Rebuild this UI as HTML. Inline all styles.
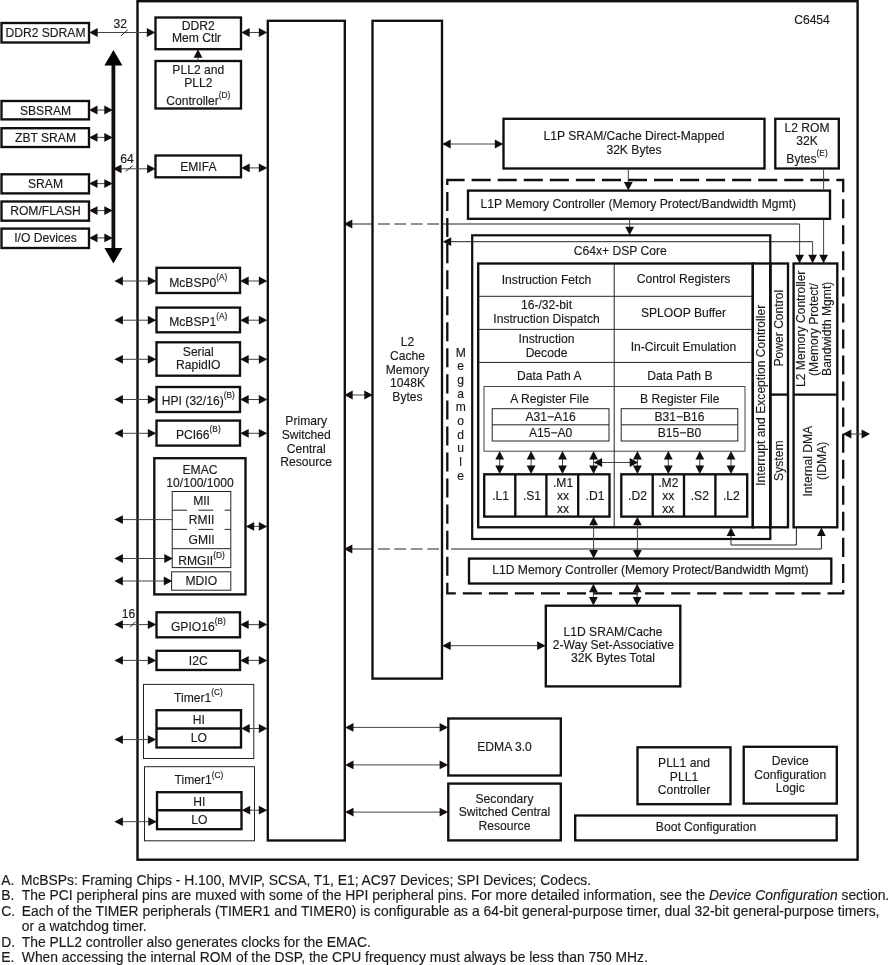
<!DOCTYPE html>
<html><head><meta charset="utf-8"><title>C6454 Functional Block Diagram</title>
<style>
html,body{margin:0;padding:0;background:#fff;}
body{width:889px;height:965px;overflow:hidden;position:relative;font-family:"Liberation Sans",Arial,sans-serif;}
svg{position:absolute;left:0;top:0;will-change:transform;}
svg text{font-family:"Liberation Sans",Arial,sans-serif;fill:#1a1a1a;stroke:#1a1a1a;stroke-width:0.15px;}
</style></head><body>
<svg width="889" height="965" viewBox="0 0 889 965">
<rect x="137.50" y="1.20" width="720.10" height="858.50" fill="none" stroke="#120e0d" stroke-width="2.4" />
<rect x="1.50" y="23.00" width="87.50" height="19.50" fill="none" stroke="#120e0d" stroke-width="2.35" />
<text x="45.50" y="37.00" font-size="12.12" text-anchor="middle" >DDR2 SDRAM</text>
<rect x="1.50" y="101.00" width="87.50" height="18.40" fill="none" stroke="#120e0d" stroke-width="2.35" />
<text x="45.50" y="114.60" font-size="12.12" text-anchor="middle" >SBSRAM</text>
<rect x="1.50" y="128.20" width="87.50" height="18.80" fill="none" stroke="#120e0d" stroke-width="2.35" />
<text x="45.50" y="141.70" font-size="12.12" text-anchor="middle" >ZBT SRAM</text>
<rect x="1.50" y="174.30" width="87.50" height="19.10" fill="none" stroke="#120e0d" stroke-width="2.35" />
<text x="45.50" y="188.10" font-size="12.12" text-anchor="middle" >SRAM</text>
<rect x="1.50" y="201.50" width="87.50" height="19.20" fill="none" stroke="#120e0d" stroke-width="2.35" />
<text x="45.50" y="215.30" font-size="12.12" text-anchor="middle" >ROM/FLASH</text>
<rect x="1.50" y="228.60" width="87.50" height="19.40" fill="none" stroke="#120e0d" stroke-width="2.35" />
<text x="45.50" y="241.70" font-size="12.12" text-anchor="middle" >I/O Devices</text>
<line x1="96.50" y1="110.00" x2="105.30" y2="110.00" stroke="#444" stroke-width="1" />
<polygon points="89.00,110.00 97.50,105.60 97.50,114.40" fill="#120e0d"/>
<polygon points="112.80,110.00 104.30,105.60 104.30,114.40" fill="#120e0d"/>
<line x1="96.50" y1="137.40" x2="105.30" y2="137.40" stroke="#444" stroke-width="1" />
<polygon points="89.00,137.40 97.50,133.00 97.50,141.80" fill="#120e0d"/>
<polygon points="112.80,137.40 104.30,133.00 104.30,141.80" fill="#120e0d"/>
<line x1="96.50" y1="183.60" x2="105.30" y2="183.60" stroke="#444" stroke-width="1" />
<polygon points="89.00,183.60 97.50,179.20 97.50,188.00" fill="#120e0d"/>
<polygon points="112.80,183.60 104.30,179.20 104.30,188.00" fill="#120e0d"/>
<line x1="96.50" y1="210.60" x2="105.30" y2="210.60" stroke="#444" stroke-width="1" />
<polygon points="89.00,210.60 97.50,206.20 97.50,215.00" fill="#120e0d"/>
<polygon points="112.80,210.60 104.30,206.20 104.30,215.00" fill="#120e0d"/>
<line x1="96.50" y1="237.90" x2="105.30" y2="237.90" stroke="#444" stroke-width="1" />
<polygon points="89.00,237.90 97.50,233.50 97.50,242.30" fill="#120e0d"/>
<polygon points="112.80,237.90 104.30,233.50 104.30,242.30" fill="#120e0d"/>
<line x1="113.40" y1="62.00" x2="113.40" y2="251.00" stroke="#120e0d" stroke-width="3.8" />
<polygon points="113.4,50 104.4,65.5 122.4,65.5" fill="#000"/>
<polygon points="113.4,263.5 104.4,248 122.4,248" fill="#000"/>
<line x1="96.70" y1="32.50" x2="147.80" y2="32.50" stroke="#444" stroke-width="1" />
<polygon points="89.20,32.50 97.70,28.10 97.70,36.90" fill="#120e0d"/>
<polygon points="155.30,32.50 146.80,28.10 146.80,36.90" fill="#120e0d"/>
<text x="120.20" y="28.00" font-size="12.12" text-anchor="middle" >32</text>
<line x1="121.00" y1="35.90" x2="127.70" y2="29.80" stroke="#222" stroke-width="1" />
<rect x="155.50" y="17.50" width="85.50" height="31.70" fill="none" stroke="#120e0d" stroke-width="2.35" />
<text x="198.30" y="29.80" font-size="12.12" text-anchor="middle" >DDR2</text>
<text x="196.60" y="41.60" font-size="12.12" text-anchor="middle" >Mem Ctlr</text>
<line x1="248.70" y1="32.50" x2="259.80" y2="32.50" stroke="#444" stroke-width="1" />
<polygon points="241.20,32.50 249.70,28.10 249.70,36.90" fill="#120e0d"/>
<polygon points="267.30,32.50 258.80,28.10 258.80,36.90" fill="#120e0d"/>
<rect x="155.50" y="61.00" width="85.50" height="47.50" fill="none" stroke="#120e0d" stroke-width="2.35" />
<text x="198.30" y="73.70" font-size="12.12" text-anchor="middle" >PLL2 and</text>
<text x="198.30" y="86.50" font-size="12.12" text-anchor="middle" >PLL2</text>
<text x="198.30" y="104.50" font-size="12.12" text-anchor="middle" >Controller<tspan font-size="8.3" dy="-6.6">(D)</tspan></text>
<line x1="198.00" y1="56.70" x2="198.00" y2="61.00" stroke="#444" stroke-width="1" />
<polygon points="198.00,49.20 193.60,57.70 202.40,57.70" fill="#120e0d"/>
<line x1="120.50" y1="168.80" x2="148.10" y2="168.80" stroke="#444" stroke-width="1" />
<polygon points="113.00,168.80 121.50,164.40 121.50,173.20" fill="#120e0d"/>
<polygon points="155.60,168.80 147.10,164.40 147.10,173.20" fill="#120e0d"/>
<text x="127.00" y="162.70" font-size="12.12" text-anchor="middle" >64</text>
<line x1="125.70" y1="171.40" x2="132.70" y2="165.70" stroke="#222" stroke-width="1" />
<rect x="155.50" y="155.50" width="85.50" height="21.80" fill="none" stroke="#120e0d" stroke-width="2.35" />
<text x="198.30" y="171.00" font-size="12.12" text-anchor="middle" >EMIFA</text>
<line x1="248.70" y1="167.90" x2="259.80" y2="167.90" stroke="#444" stroke-width="1" />
<polygon points="241.20,167.90 249.70,163.50 249.70,172.30" fill="#120e0d"/>
<polygon points="267.30,167.90 258.80,163.50 258.80,172.30" fill="#120e0d"/>
<rect x="156.50" y="267.80" width="83.50" height="25.20" fill="none" stroke="#120e0d" stroke-width="2.35" />
<line x1="121.90" y1="281.00" x2="148.80" y2="281.00" stroke="#444" stroke-width="1" />
<polygon points="114.40,281.00 122.90,276.60 122.90,285.40" fill="#120e0d"/>
<polygon points="156.30,281.00 147.80,276.60 147.80,285.40" fill="#120e0d"/>
<line x1="247.70" y1="281.00" x2="259.80" y2="281.00" stroke="#444" stroke-width="1" />
<polygon points="240.20,281.00 248.70,276.60 248.70,285.40" fill="#120e0d"/>
<polygon points="267.30,281.00 258.80,276.60 258.80,285.40" fill="#120e0d"/>
<text x="198.30" y="286.50" font-size="12.12" text-anchor="middle" >McBSP0<tspan font-size="8.3" dy="-6.6">(A)</tspan></text>
<rect x="156.50" y="307.60" width="83.50" height="24.70" fill="none" stroke="#120e0d" stroke-width="2.35" />
<line x1="121.90" y1="320.20" x2="148.80" y2="320.20" stroke="#444" stroke-width="1" />
<polygon points="114.40,320.20 122.90,315.80 122.90,324.60" fill="#120e0d"/>
<polygon points="156.30,320.20 147.80,315.80 147.80,324.60" fill="#120e0d"/>
<line x1="247.70" y1="320.20" x2="259.80" y2="320.20" stroke="#444" stroke-width="1" />
<polygon points="240.20,320.20 248.70,315.80 248.70,324.60" fill="#120e0d"/>
<polygon points="267.30,320.20 258.80,315.80 258.80,324.60" fill="#120e0d"/>
<text x="198.30" y="326.00" font-size="12.12" text-anchor="middle" >McBSP1<tspan font-size="8.3" dy="-6.6">(A)</tspan></text>
<rect x="156.50" y="342.30" width="83.50" height="33.40" fill="none" stroke="#120e0d" stroke-width="2.35" />
<line x1="121.90" y1="359.30" x2="148.80" y2="359.30" stroke="#444" stroke-width="1" />
<polygon points="114.40,359.30 122.90,354.90 122.90,363.70" fill="#120e0d"/>
<polygon points="156.30,359.30 147.80,354.90 147.80,363.70" fill="#120e0d"/>
<line x1="247.70" y1="359.30" x2="259.80" y2="359.30" stroke="#444" stroke-width="1" />
<polygon points="240.20,359.30 248.70,354.90 248.70,363.70" fill="#120e0d"/>
<polygon points="267.30,359.30 258.80,354.90 258.80,363.70" fill="#120e0d"/>
<text x="198.30" y="355.50" font-size="12.12" text-anchor="middle" >Serial</text>
<text x="198.30" y="368.70" font-size="12.12" text-anchor="middle" >RapidIO</text>
<rect x="156.50" y="387.00" width="83.50" height="25.00" fill="none" stroke="#120e0d" stroke-width="2.35" />
<line x1="121.90" y1="399.50" x2="148.80" y2="399.50" stroke="#444" stroke-width="1" />
<polygon points="114.40,399.50 122.90,395.10 122.90,403.90" fill="#120e0d"/>
<polygon points="156.30,399.50 147.80,395.10 147.80,403.90" fill="#120e0d"/>
<line x1="247.70" y1="399.50" x2="259.80" y2="399.50" stroke="#444" stroke-width="1" />
<polygon points="240.20,399.50 248.70,395.10 248.70,403.90" fill="#120e0d"/>
<polygon points="267.30,399.50 258.80,395.10 258.80,403.90" fill="#120e0d"/>
<text x="198.30" y="404.50" font-size="12.12" text-anchor="middle" >HPI (32/16)<tspan font-size="8.3" dy="-6.6">(B)</tspan></text>
<rect x="156.50" y="420.60" width="83.50" height="25.00" fill="none" stroke="#120e0d" stroke-width="2.35" />
<line x1="121.90" y1="433.30" x2="148.80" y2="433.30" stroke="#444" stroke-width="1" />
<polygon points="114.40,433.30 122.90,428.90 122.90,437.70" fill="#120e0d"/>
<polygon points="156.30,433.30 147.80,428.90 147.80,437.70" fill="#120e0d"/>
<line x1="247.70" y1="433.30" x2="259.80" y2="433.30" stroke="#444" stroke-width="1" />
<polygon points="240.20,433.30 248.70,428.90 248.70,437.70" fill="#120e0d"/>
<polygon points="267.30,433.30 258.80,428.90 258.80,437.70" fill="#120e0d"/>
<text x="198.30" y="438.70" font-size="12.12" text-anchor="middle" >PCI66<tspan font-size="8.3" dy="-6.6">(B)</tspan></text>
<rect x="154.30" y="458.20" width="91.20" height="136.20" fill="none" stroke="#120e0d" stroke-width="2.35" />
<text x="200.00" y="473.70" font-size="12.12" text-anchor="middle" >EMAC</text>
<text x="200.00" y="486.60" font-size="12.12" text-anchor="middle" >10/100/1000</text>
<rect x="172.20" y="491.50" width="58.60" height="76.10" fill="none" stroke="#222" stroke-width="1" />
<line x1="172.20" y1="548.70" x2="230.80" y2="548.70" stroke="#222" stroke-width="1" />
<line x1="172.20" y1="510.20" x2="230.80" y2="510.20" stroke="#222" stroke-width="1" stroke-dasharray="14.8 11.4"/>
<line x1="172.20" y1="529.40" x2="230.80" y2="529.40" stroke="#222" stroke-width="1" stroke-dasharray="14.8 11.4"/>
<text x="201.60" y="504.80" font-size="12.12" text-anchor="middle" >MII</text>
<text x="201.60" y="523.60" font-size="12.12" text-anchor="middle" >RMII</text>
<text x="201.60" y="543.80" font-size="12.12" text-anchor="middle" >GMII</text>
<text x="201.50" y="564.50" font-size="12.12" text-anchor="middle" >RMGII<tspan font-size="8.3" dy="-6.6">(D)</tspan></text>
<rect x="171.60" y="571.80" width="59.20" height="18.40" fill="none" stroke="#222" stroke-width="1" />
<text x="201.30" y="585.40" font-size="12.12" text-anchor="middle" >MDIO</text>
<line x1="121.90" y1="519.60" x2="172.00" y2="519.60" stroke="#444" stroke-width="1" />
<polygon points="114.40,519.60 122.90,515.20 122.90,524.00" fill="#120e0d"/>
<line x1="121.90" y1="558.50" x2="165.30" y2="558.50" stroke="#444" stroke-width="1" />
<polygon points="114.40,558.50 122.90,554.10 122.90,562.90" fill="#120e0d"/>
<polygon points="172.80,558.50 164.30,554.10 164.30,562.90" fill="#120e0d"/>
<line x1="121.90" y1="581.00" x2="164.80" y2="581.00" stroke="#444" stroke-width="1" />
<polygon points="114.40,581.00 122.90,576.60 122.90,585.40" fill="#120e0d"/>
<polygon points="172.30,581.00 163.80,576.60 163.80,585.40" fill="#120e0d"/>
<line x1="253.20" y1="526.40" x2="259.80" y2="526.40" stroke="#444" stroke-width="1" />
<polygon points="245.70,526.40 254.20,522.00 254.20,530.80" fill="#120e0d"/>
<polygon points="267.30,526.40 258.80,522.00 258.80,530.80" fill="#120e0d"/>
<rect x="156.50" y="612.30" width="83.50" height="25.00" fill="none" stroke="#120e0d" stroke-width="2.35" />
<line x1="121.90" y1="624.60" x2="148.80" y2="624.60" stroke="#444" stroke-width="1" />
<polygon points="114.40,624.60 122.90,620.20 122.90,629.00" fill="#120e0d"/>
<polygon points="156.30,624.60 147.80,620.20 147.80,629.00" fill="#120e0d"/>
<line x1="247.70" y1="624.60" x2="259.80" y2="624.60" stroke="#444" stroke-width="1" />
<polygon points="240.20,624.60 248.70,620.20 248.70,629.00" fill="#120e0d"/>
<polygon points="267.30,624.60 258.80,620.20 258.80,629.00" fill="#120e0d"/>
<text x="198.30" y="630.70" font-size="12.12" text-anchor="middle" >GPIO16<tspan font-size="8.3" dy="-6.6">(B)</tspan></text>
<text x="128.50" y="618.20" font-size="12.12" text-anchor="middle" >16</text>
<line x1="130.00" y1="627.30" x2="135.70" y2="621.60" stroke="#222" stroke-width="1" />
<rect x="156.50" y="650.80" width="83.50" height="19.20" fill="none" stroke="#120e0d" stroke-width="2.35" />
<line x1="121.90" y1="660.40" x2="148.80" y2="660.40" stroke="#444" stroke-width="1" />
<polygon points="114.40,660.40 122.90,656.00 122.90,664.80" fill="#120e0d"/>
<polygon points="156.30,660.40 147.80,656.00 147.80,664.80" fill="#120e0d"/>
<line x1="247.70" y1="660.40" x2="259.80" y2="660.40" stroke="#444" stroke-width="1" />
<polygon points="240.20,660.40 248.70,656.00 248.70,664.80" fill="#120e0d"/>
<polygon points="267.30,660.40 258.80,656.00 258.80,664.80" fill="#120e0d"/>
<text x="198.30" y="665.00" font-size="12.12" text-anchor="middle" >I2C</text>
<rect x="143.50" y="684.40" width="110.30" height="74.10" fill="none" stroke="#222" stroke-width="1" />
<text x="198.45" y="701.50" font-size="12.12" text-anchor="middle" >Timer1<tspan font-size="8.3" dy="-6.6">(C)</tspan></text>
<rect x="156.50" y="710.20" width="84.50" height="37.30" fill="none" stroke="#120e0d" stroke-width="2.35" />
<line x1="156.50" y1="728.50" x2="241.00" y2="728.50" stroke="#120e0d" stroke-width="2.35" />
<text x="198.75" y="723.65" font-size="12.12" text-anchor="middle" >HI</text>
<text x="198.75" y="742.30" font-size="12.12" text-anchor="middle" >LO</text>
<line x1="248.70" y1="728.50" x2="259.80" y2="728.50" stroke="#444" stroke-width="1" />
<polygon points="241.20,728.50 249.70,724.10 249.70,732.90" fill="#120e0d"/>
<polygon points="267.30,728.50 258.80,724.10 258.80,732.90" fill="#120e0d"/>
<line x1="121.90" y1="739.60" x2="148.80" y2="739.60" stroke="#444" stroke-width="1" />
<polygon points="114.40,739.60 122.90,735.20 122.90,744.00" fill="#120e0d"/>
<polygon points="156.30,739.60 147.80,735.20 147.80,744.00" fill="#120e0d"/>
<rect x="144.50" y="766.70" width="110.00" height="74.10" fill="none" stroke="#222" stroke-width="1" />
<text x="198.95" y="784.30" font-size="12.12" text-anchor="middle" >Timer1<tspan font-size="8.3" dy="-6.6">(C)</tspan></text>
<rect x="157.00" y="792.20" width="84.50" height="37.00" fill="none" stroke="#120e0d" stroke-width="2.35" />
<line x1="157.00" y1="810.20" x2="241.50" y2="810.20" stroke="#120e0d" stroke-width="2.35" />
<text x="199.25" y="805.50" font-size="12.12" text-anchor="middle" >HI</text>
<text x="199.25" y="824.00" font-size="12.12" text-anchor="middle" >LO</text>
<line x1="249.20" y1="810.20" x2="259.80" y2="810.20" stroke="#444" stroke-width="1" />
<polygon points="241.70,810.20 250.20,805.80 250.20,814.60" fill="#120e0d"/>
<polygon points="267.30,810.20 258.80,805.80 258.80,814.60" fill="#120e0d"/>
<line x1="121.90" y1="821.70" x2="149.30" y2="821.70" stroke="#444" stroke-width="1" />
<polygon points="114.40,821.70 122.90,817.30 122.90,826.10" fill="#120e0d"/>
<polygon points="156.80,821.70 148.30,817.30 148.30,826.10" fill="#120e0d"/>
<rect x="267.80" y="20.80" width="77.00" height="819.70" fill="none" stroke="#120e0d" stroke-width="2.35" />
<text x="306.20" y="424.60" font-size="12.12" text-anchor="middle" >Primary</text>
<text x="306.20" y="439.00" font-size="12.12" text-anchor="middle" >Switched</text>
<text x="306.20" y="452.50" font-size="12.12" text-anchor="middle" >Central</text>
<text x="306.20" y="466.00" font-size="12.12" text-anchor="middle" >Resource</text>
<rect x="372.50" y="20.80" width="69.50" height="657.80" fill="none" stroke="#120e0d" stroke-width="2.35" />
<text x="407.50" y="345.60" font-size="12.12" text-anchor="middle" >L2</text>
<text x="407.50" y="360.10" font-size="12.12" text-anchor="middle" >Cache</text>
<text x="407.50" y="373.70" font-size="12.12" text-anchor="middle" >Memory</text>
<text x="407.50" y="387.30" font-size="12.12" text-anchor="middle" >1048K</text>
<text x="407.50" y="400.90" font-size="12.12" text-anchor="middle" >Bytes</text>
<rect x="503.50" y="118.80" width="261.00" height="49.70" fill="none" stroke="#120e0d" stroke-width="2.35" />
<text x="634.00" y="139.70" font-size="12.12" text-anchor="middle" >L1P SRAM/Cache Direct-Mapped</text>
<text x="634.00" y="153.70" font-size="12.12" text-anchor="middle" >32K Bytes</text>
<line x1="449.70" y1="144.00" x2="495.80" y2="144.00" stroke="#444" stroke-width="1" />
<polygon points="442.20,144.00 450.70,139.60 450.70,148.40" fill="#120e0d"/>
<polygon points="503.30,144.00 494.80,139.60 494.80,148.40" fill="#120e0d"/>
<rect x="775.30" y="118.80" width="63.50" height="49.70" fill="none" stroke="#120e0d" stroke-width="2.35" />
<text x="807.00" y="131.70" font-size="12.12" text-anchor="middle" >L2 ROM</text>
<text x="807.00" y="144.70" font-size="12.12" text-anchor="middle" >32K</text>
<text x="807.00" y="162.50" font-size="12.12" text-anchor="middle" >Bytes<tspan font-size="8.3" dy="-6.6">(E)</tspan></text>
<path d="M447.3,180 H843.2 V593.3 H447.3 Z" fill="none" stroke="#120e0d" stroke-width="2.3" stroke-dasharray="19.05 7" stroke-dashoffset="1.7"/>
<rect x="468.00" y="190.60" width="362.00" height="28.20" fill="none" stroke="#120e0d" stroke-width="2.35" />
<text x="638.30" y="207.80" font-size="12.15" text-anchor="middle" >L1P Memory Controller (Memory Protect/Bandwidth Mgmt)</text>
<line x1="628.30" y1="169.50" x2="628.30" y2="182.90" stroke="#444" stroke-width="1" />
<polygon points="628.30,190.40 623.90,181.90 632.70,181.90" fill="#120e0d"/>
<line x1="823.60" y1="169.50" x2="823.60" y2="189.20" stroke="#444" stroke-width="1" />
<line x1="823.60" y1="220.00" x2="823.60" y2="255.80" stroke="#444" stroke-width="1" />
<polygon points="823.60,263.30 819.20,254.80 828.00,254.80" fill="#120e0d"/>
<line x1="443.00" y1="224.00" x2="799.60" y2="224.00" stroke="#222" stroke-width="1" />
<line x1="799.60" y1="224.00" x2="799.60" y2="255.80" stroke="#444" stroke-width="1" />
<polygon points="799.60,263.30 795.20,254.80 804.00,254.80" fill="#120e0d"/>
<line x1="352.00" y1="224.00" x2="372.50" y2="224.00" stroke="#222" stroke-width="1" />
<line x1="378.00" y1="224.00" x2="441.00" y2="224.00" stroke="#222" stroke-width="1" stroke-dasharray="11.8 4.6"/>
<polygon points="343.80,224.00 352.30,219.60 352.30,228.40" fill="#120e0d"/>
<line x1="451.00" y1="241.70" x2="812.60" y2="241.70" stroke="#222" stroke-width="1" />
<polygon points="442.70,241.70 451.20,237.30 451.20,246.10" fill="#120e0d"/>
<line x1="812.60" y1="241.70" x2="812.60" y2="255.80" stroke="#444" stroke-width="1" />
<polygon points="812.60,263.30 808.20,254.80 817.00,254.80" fill="#120e0d"/>
<line x1="629.60" y1="219.80" x2="629.60" y2="227.80" stroke="#444" stroke-width="1" />
<polygon points="629.60,235.30 625.20,226.80 634.00,226.80" fill="#120e0d"/>
<rect x="472.20" y="235.30" width="298.10" height="303.70" fill="none" stroke="#120e0d" stroke-width="2.2" />
<text x="620.20" y="255.00" font-size="12.12" text-anchor="middle" >C64x+ DSP Core</text>
<rect x="478.20" y="263.50" width="274.60" height="263.80" fill="none" stroke="#120e0d" stroke-width="2.35" />
<line x1="614.20" y1="263.50" x2="614.20" y2="527.30" stroke="#222" stroke-width="1" />
<line x1="478.20" y1="296.30" x2="752.80" y2="296.30" stroke="#222" stroke-width="1" />
<line x1="478.20" y1="329.40" x2="752.80" y2="329.40" stroke="#222" stroke-width="1" />
<line x1="478.20" y1="362.40" x2="752.80" y2="362.40" stroke="#222" stroke-width="1" />
<text x="546.50" y="284.30" font-size="12.12" text-anchor="middle" >Instruction Fetch</text>
<text x="546.50" y="308.70" font-size="12.12" text-anchor="middle" >16-/32-bit</text>
<text x="546.50" y="323.20" font-size="12.12" text-anchor="middle" >Instruction Dispatch</text>
<text x="546.50" y="343.20" font-size="12.12" text-anchor="middle" >Instruction</text>
<text x="546.50" y="357.00" font-size="12.12" text-anchor="middle" >Decode</text>
<text x="549.30" y="379.50" font-size="12.12" text-anchor="middle" >Data Path A</text>
<text x="683.50" y="282.70" font-size="12.12" text-anchor="middle" >Control Registers</text>
<text x="683.50" y="317.00" font-size="12.12" text-anchor="middle" >SPLOOP Buffer</text>
<text x="683.50" y="350.50" font-size="12.12" text-anchor="middle" >In-Circuit Emulation</text>
<text x="679.90" y="379.50" font-size="12.12" text-anchor="middle" >Data Path B</text>
<rect x="484.00" y="386.50" width="261.00" height="64.70" fill="none" stroke="#444" stroke-width="1" />
<text x="549.50" y="402.80" font-size="12.12" text-anchor="middle" >A Register File</text>
<text x="679.70" y="402.80" font-size="12.12" text-anchor="middle" >B Register File</text>
<rect x="492.20" y="408.70" width="116.80" height="32.30" fill="none" stroke="#222" stroke-width="1" />
<line x1="492.20" y1="424.80" x2="609.00" y2="424.80" stroke="#222" stroke-width="1" />
<rect x="621.20" y="408.70" width="116.60" height="32.30" fill="none" stroke="#222" stroke-width="1" />
<line x1="621.20" y1="424.80" x2="737.80" y2="424.80" stroke="#222" stroke-width="1" />
<text x="550.60" y="421.00" font-size="12.12" text-anchor="middle" >A31−A16</text>
<text x="550.60" y="437.20" font-size="12.12" text-anchor="middle" >A15−A0</text>
<text x="679.50" y="421.00" font-size="12.12" text-anchor="middle" >B31−B16</text>
<text x="679.50" y="437.20" font-size="12.12" text-anchor="middle" >B15−B0</text>
<rect x="484.20" y="474.30" width="125.30" height="42.30" fill="none" stroke="#120e0d" stroke-width="2.35" />
<line x1="515.30" y1="474.30" x2="515.30" y2="516.60" stroke="#120e0d" stroke-width="2.35" />
<line x1="546.40" y1="474.30" x2="546.40" y2="516.60" stroke="#120e0d" stroke-width="2.35" />
<line x1="578.20" y1="474.30" x2="578.20" y2="516.60" stroke="#120e0d" stroke-width="2.35" />
<rect x="621.30" y="474.30" width="125.90" height="42.30" fill="none" stroke="#120e0d" stroke-width="2.35" />
<line x1="652.70" y1="474.30" x2="652.70" y2="516.60" stroke="#120e0d" stroke-width="2.35" />
<line x1="684.00" y1="474.30" x2="684.00" y2="516.60" stroke="#120e0d" stroke-width="2.35" />
<line x1="715.40" y1="474.30" x2="715.40" y2="516.60" stroke="#120e0d" stroke-width="2.35" />
<text x="500.60" y="499.70" font-size="12.12" text-anchor="middle" >.L1</text>
<text x="532.00" y="499.70" font-size="12.12" text-anchor="middle" >.S1</text>
<text x="595.00" y="499.70" font-size="12.12" text-anchor="middle" >.D1</text>
<text x="563.10" y="486.50" font-size="12.12" text-anchor="middle" >.M1</text>
<text x="563.10" y="499.80" font-size="12.12" text-anchor="middle" >xx</text>
<text x="563.10" y="513.00" font-size="12.12" text-anchor="middle" >xx</text>
<text x="637.50" y="499.70" font-size="12.12" text-anchor="middle" >.D2</text>
<text x="699.80" y="499.70" font-size="12.12" text-anchor="middle" >.S2</text>
<text x="731.30" y="499.70" font-size="12.12" text-anchor="middle" >.L2</text>
<text x="668.30" y="486.50" font-size="12.12" text-anchor="middle" >.M2</text>
<text x="668.30" y="499.80" font-size="12.12" text-anchor="middle" >xx</text>
<text x="668.30" y="513.00" font-size="12.12" text-anchor="middle" >xx</text>
<line x1="499.70" y1="458.40" x2="499.70" y2="466.60" stroke="#444" stroke-width="1" />
<polygon points="499.70,450.90 495.30,459.40 504.10,459.40" fill="#120e0d"/>
<polygon points="499.70,474.10 495.30,465.60 504.10,465.60" fill="#120e0d"/>
<line x1="531.10" y1="458.40" x2="531.10" y2="466.60" stroke="#444" stroke-width="1" />
<polygon points="531.10,450.90 526.70,459.40 535.50,459.40" fill="#120e0d"/>
<polygon points="531.10,474.10 526.70,465.60 535.50,465.60" fill="#120e0d"/>
<line x1="562.50" y1="458.40" x2="562.50" y2="466.60" stroke="#444" stroke-width="1" />
<polygon points="562.50,450.90 558.10,459.40 566.90,459.40" fill="#120e0d"/>
<polygon points="562.50,474.10 558.10,465.60 566.90,465.60" fill="#120e0d"/>
<line x1="593.60" y1="458.40" x2="593.60" y2="466.60" stroke="#444" stroke-width="1" />
<polygon points="593.60,450.90 589.20,459.40 598.00,459.40" fill="#120e0d"/>
<polygon points="593.60,474.10 589.20,465.60 598.00,465.60" fill="#120e0d"/>
<line x1="637.40" y1="458.40" x2="637.40" y2="466.60" stroke="#444" stroke-width="1" />
<polygon points="637.40,450.90 633.00,459.40 641.80,459.40" fill="#120e0d"/>
<polygon points="637.40,474.10 633.00,465.60 641.80,465.60" fill="#120e0d"/>
<line x1="668.30" y1="458.40" x2="668.30" y2="466.60" stroke="#444" stroke-width="1" />
<polygon points="668.30,450.90 663.90,459.40 672.70,459.40" fill="#120e0d"/>
<polygon points="668.30,474.10 663.90,465.60 672.70,465.60" fill="#120e0d"/>
<line x1="699.80" y1="458.40" x2="699.80" y2="466.60" stroke="#444" stroke-width="1" />
<polygon points="699.80,450.90 695.40,459.40 704.20,459.40" fill="#120e0d"/>
<polygon points="699.80,474.10 695.40,465.60 704.20,465.60" fill="#120e0d"/>
<line x1="731.00" y1="458.40" x2="731.00" y2="466.60" stroke="#444" stroke-width="1" />
<polygon points="731.00,450.90 726.60,459.40 735.40,459.40" fill="#120e0d"/>
<polygon points="731.00,474.10 726.60,465.60 735.40,465.60" fill="#120e0d"/>
<line x1="601.10" y1="462.50" x2="630.70" y2="462.50" stroke="#444" stroke-width="1" />
<polygon points="593.60,462.50 602.10,458.10 602.10,466.90" fill="#120e0d"/>
<polygon points="638.20,462.50 629.70,458.10 629.70,466.90" fill="#120e0d"/>
<line x1="593.60" y1="524.30" x2="593.60" y2="550.90" stroke="#444" stroke-width="1" />
<polygon points="593.60,516.80 589.20,525.30 598.00,525.30" fill="#120e0d"/>
<polygon points="593.60,558.40 589.20,549.90 598.00,549.90" fill="#120e0d"/>
<line x1="637.40" y1="524.30" x2="637.40" y2="550.90" stroke="#444" stroke-width="1" />
<polygon points="637.40,516.80 633.00,525.30 641.80,525.30" fill="#120e0d"/>
<polygon points="637.40,558.40 633.00,549.90 641.80,549.90" fill="#120e0d"/>
<rect x="752.80" y="263.50" width="17.50" height="263.80" fill="none" stroke="#120e0d" stroke-width="2.35" />
<rect x="770.30" y="263.50" width="17.70" height="263.80" fill="none" stroke="#120e0d" stroke-width="2.35" />
<line x1="770.30" y1="394.60" x2="788.00" y2="394.60" stroke="#120e0d" stroke-width="2.35" />
<rect x="793.60" y="263.50" width="43.70" height="263.80" fill="none" stroke="#120e0d" stroke-width="2.35" />
<line x1="793.60" y1="394.60" x2="837.30" y2="394.60" stroke="#120e0d" stroke-width="2.35" />
<text transform="translate(764.90,395.30) rotate(-90)" font-size="12.12" text-anchor="middle">Interrupt and Exception Controller</text>
<text transform="translate(783.10,328.20) rotate(-90)" font-size="12.12" text-anchor="middle">Power Control</text>
<text transform="translate(782.60,460.70) rotate(-90)" font-size="12.12" text-anchor="middle">System</text>
<text transform="translate(804.80,328.80) rotate(-90)" font-size="12.12" text-anchor="middle">L2 Memory Controller</text>
<text transform="translate(818.00,329.50) rotate(-90)" font-size="12.12" text-anchor="middle">(Memory Protect/</text>
<text transform="translate(831.20,328.80) rotate(-90)" font-size="12.12" text-anchor="middle">Bandwidth Mgmt)</text>
<text transform="translate(811.50,461.20) rotate(-90)" font-size="12.12" text-anchor="middle">Internal DMA</text>
<text transform="translate(825.80,460.90) rotate(-90)" font-size="12.12" text-anchor="middle">(IDMA)</text>
<text x="460.7" y="345.6" font-size="12.12" style="writing-mode:vertical-rl;text-orientation:upright;letter-spacing:-0.32px">Megamodule</text>
<polyline points="731.00,535.00 731.00,545.00 796.40,545.00 796.40,528.30" fill="none" stroke="#222" stroke-width="1" />
<polygon points="731.00,527.50 726.60,536.00 735.40,536.00" fill="#120e0d"/>
<polyline points="821.40,535.00 821.40,549.00 451.00,549.00" fill="none" stroke="#222" stroke-width="1" />
<polygon points="821.40,527.50 817.00,536.00 825.80,536.00" fill="#120e0d"/>
<line x1="352.00" y1="549.00" x2="372.50" y2="549.00" stroke="#222" stroke-width="1" />
<line x1="378.00" y1="549.00" x2="441.00" y2="549.00" stroke="#222" stroke-width="1" stroke-dasharray="11.8 4.6"/>
<polygon points="343.80,549.00 352.30,544.60 352.30,553.40" fill="#120e0d"/>
<line x1="850.30" y1="434.00" x2="862.60" y2="434.00" stroke="#444" stroke-width="1" />
<polygon points="842.80,434.00 851.30,429.60 851.30,438.40" fill="#120e0d"/>
<polygon points="870.10,434.00 861.60,429.60 861.60,438.40" fill="#120e0d"/>
<rect x="469.00" y="558.60" width="362.30" height="24.90" fill="none" stroke="#120e0d" stroke-width="2.35" />
<text x="650.40" y="574.30" font-size="12.15" text-anchor="middle" >L1D Memory Controller (Memory Protect/Bandwidth Mgmt)</text>
<line x1="593.40" y1="591.20" x2="593.40" y2="598.00" stroke="#444" stroke-width="1" />
<polygon points="593.40,583.70 589.00,592.20 597.80,592.20" fill="#120e0d"/>
<polygon points="593.40,605.50 589.00,597.00 597.80,597.00" fill="#120e0d"/>
<line x1="637.10" y1="591.20" x2="637.10" y2="598.00" stroke="#444" stroke-width="1" />
<polygon points="637.10,583.70 632.70,592.20 641.50,592.20" fill="#120e0d"/>
<polygon points="637.10,605.50 632.70,597.00 641.50,597.00" fill="#120e0d"/>
<rect x="545.80" y="605.70" width="134.50" height="80.70" fill="none" stroke="#120e0d" stroke-width="2.35" />
<text x="613.00" y="635.60" font-size="12.12" text-anchor="middle" >L1D SRAM/Cache</text>
<text x="613.30" y="648.90" font-size="12.1" text-anchor="middle" >2-Way Set-Associative</text>
<text x="613.00" y="662.30" font-size="12.12" text-anchor="middle" >32K Bytes Total</text>
<line x1="449.70" y1="645.70" x2="538.10" y2="645.70" stroke="#444" stroke-width="1" />
<polygon points="442.20,645.70 450.70,641.30 450.70,650.10" fill="#120e0d"/>
<polygon points="545.60,645.70 537.10,641.30 537.10,650.10" fill="#120e0d"/>
<rect x="448.30" y="718.50" width="112.50" height="57.00" fill="none" stroke="#120e0d" stroke-width="2.35" />
<text x="504.50" y="750.70" font-size="12.12" text-anchor="middle" >EDMA 3.0</text>
<rect x="448.30" y="783.60" width="112.50" height="56.80" fill="none" stroke="#120e0d" stroke-width="2.35" />
<text x="504.50" y="802.90" font-size="12.12" text-anchor="middle" >Secondary</text>
<text x="504.50" y="816.40" font-size="12.12" text-anchor="middle" >Switched Central</text>
<text x="504.50" y="829.90" font-size="12.12" text-anchor="middle" >Resource</text>
<line x1="352.50" y1="727.40" x2="440.60" y2="727.40" stroke="#444" stroke-width="1" />
<polygon points="345.00,727.40 353.50,723.00 353.50,731.80" fill="#120e0d"/>
<polygon points="448.10,727.40 439.60,723.00 439.60,731.80" fill="#120e0d"/>
<line x1="352.50" y1="764.90" x2="440.60" y2="764.90" stroke="#444" stroke-width="1" />
<polygon points="345.00,764.90 353.50,760.50 353.50,769.30" fill="#120e0d"/>
<polygon points="448.10,764.90 439.60,760.50 439.60,769.30" fill="#120e0d"/>
<line x1="352.50" y1="812.10" x2="440.60" y2="812.10" stroke="#444" stroke-width="1" />
<polygon points="345.00,812.10 353.50,807.70 353.50,816.50" fill="#120e0d"/>
<polygon points="448.10,812.10 439.60,807.70 439.60,816.50" fill="#120e0d"/>
<rect x="637.50" y="747.30" width="93.00" height="56.90" fill="none" stroke="#120e0d" stroke-width="2.35" />
<text x="684.00" y="767.00" font-size="12.12" text-anchor="middle" >PLL1 and</text>
<text x="684.00" y="780.50" font-size="12.12" text-anchor="middle" >PLL1</text>
<text x="684.00" y="794.00" font-size="12.12" text-anchor="middle" >Controller</text>
<rect x="743.70" y="746.80" width="93.10" height="56.80" fill="none" stroke="#120e0d" stroke-width="2.35" />
<text x="790.30" y="765.00" font-size="12.12" text-anchor="middle" >Device</text>
<text x="790.30" y="778.50" font-size="12.12" text-anchor="middle" >Configuration</text>
<text x="790.30" y="792.00" font-size="12.12" text-anchor="middle" >Logic</text>
<rect x="575.20" y="815.50" width="261.50" height="24.90" fill="none" stroke="#120e0d" stroke-width="2.35" />
<text x="706.00" y="830.70" font-size="12.12" text-anchor="middle" >Boot Configuration</text>
<text x="812.00" y="24.30" font-size="12.12" text-anchor="middle" >C6454</text>
<line x1="351.70" y1="395.00" x2="365.30" y2="395.00" stroke="#444" stroke-width="1" />
<polygon points="344.20,395.00 352.70,390.60 352.70,399.40" fill="#120e0d"/>
<polygon points="372.80,395.00 364.30,390.60 364.30,399.40" fill="#120e0d"/>
<text x="1.30" y="884.60" font-size="13.87" text-anchor="start" >A.</text>
<text x="20.90" y="884.60" font-size="13.87" text-anchor="start" >McBSPs: Framing Chips - H.100, MVIP, SCSA, T1, E1; AC97 Devices; SPI Devices; Codecs.</text>
<text x="1.30" y="899.60" font-size="13.87" text-anchor="start" >B.</text>
<text x="21.80" y="899.60" font-size="13.87" text-anchor="start" >The PCI peripheral pins are muxed with some of the HPI peripheral pins. For more detailed information, see the <tspan font-style="italic">Device Configuration</tspan> section.</text>
<text x="1.30" y="915.80" font-size="13.87" text-anchor="start" >C.</text>
<text x="21.80" y="915.80" font-size="13.87" text-anchor="start" >Each of the TIMER peripherals (TIMER1 and TIMER0) is configurable as a 64-bit general-purpose timer, dual 32-bit general-purpose timers,</text>
<text x="21.80" y="931.10" font-size="13.87" text-anchor="start" >or a watchdog timer.</text>
<text x="1.30" y="947.00" font-size="13.87" text-anchor="start" >D.</text>
<text x="21.80" y="947.00" font-size="13.87" text-anchor="start" >The PLL2 controller also generates clocks for the EMAC.</text>
<text x="1.30" y="961.50" font-size="13.87" text-anchor="start" >E.</text>
<text x="21.80" y="961.50" font-size="13.87" text-anchor="start" >When accessing the internal ROM of the DSP, the CPU frequency must always be less than 750 MHz.</text>
</svg>
</body></html>
